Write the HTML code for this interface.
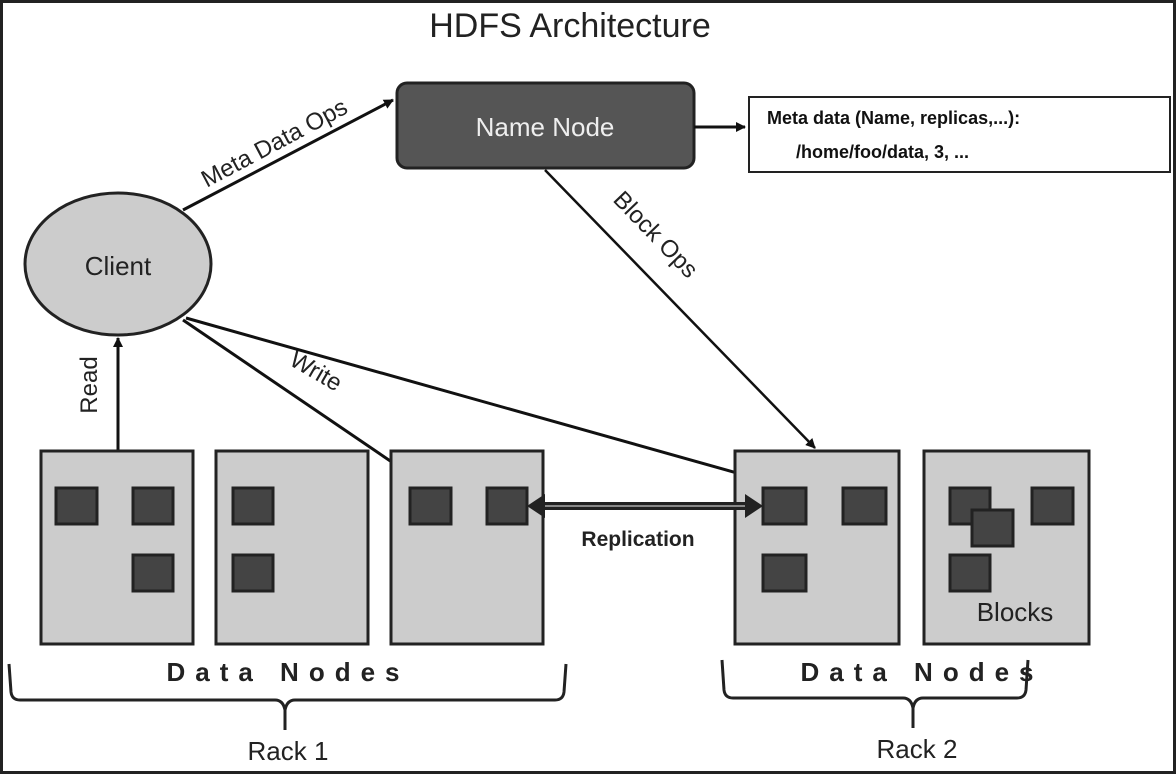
<!DOCTYPE html>
<html><head><meta charset="utf-8"><style>
html,body{margin:0;padding:0;background:#fff;}
svg{display:block;font-family:"Liberation Sans",Arial,sans-serif;}
</style></head><body>
<svg width="1176" height="774" viewBox="0 0 1176 774" xmlns="http://www.w3.org/2000/svg">
<defs>
<marker id="ah" markerWidth="10" markerHeight="10" refX="9" refY="5" orient="auto" markerUnits="userSpaceOnUse" viewBox="0 0 10 10">
<path d="M0,0 L10,5 L0,10 z" fill="#111"/></marker>
<marker id="ahb" markerWidth="16" markerHeight="16" refX="15" refY="8" orient="auto" markerUnits="userSpaceOnUse" viewBox="0 0 16 16">
<path d="M0,0 L16,8 L0,16 z" fill="#222"/></marker>
<marker id="ahs" markerWidth="16" markerHeight="16" refX="15" refY="8" orient="auto-start-reverse" markerUnits="userSpaceOnUse" viewBox="0 0 16 16">
<path d="M0,0 L16,8 L0,16 z" fill="#222"/></marker>
</defs>
<rect x="1.5" y="1.5" width="1173" height="771" fill="#fff" stroke="#222" stroke-width="3"/>
<text x="570" y="37" font-size="34" text-anchor="middle" fill="#222">HDFS Architecture</text>

<rect x="397" y="83" width="297" height="85" rx="10" fill="#555" stroke="#222" stroke-width="3"/>
<text x="545" y="136" font-size="26" text-anchor="middle" fill="#eee">Name Node</text>

<rect x="749" y="97" width="421" height="75" fill="#fff" stroke="#222" stroke-width="2"/>
<text x="767" y="124" font-size="18" font-weight="bold" fill="#111">Meta data (Name, replicas,...):</text>
<text x="796" y="158" font-size="18" font-weight="bold" fill="#111">/home/foo/data,  3, ...</text>
<line x1="694" y1="127" x2="745" y2="127" stroke="#111" stroke-width="3" marker-end="url(#ah)"/>

<ellipse cx="118" cy="264" rx="93" ry="71" fill="#ccc" stroke="#222" stroke-width="3"/>
<text x="118" y="275" font-size="26" text-anchor="middle" fill="#222">Client</text>

<line x1="183" y1="210" x2="393" y2="100" stroke="#111" stroke-width="3" marker-end="url(#ah)"/>
<text transform="translate(278,150) rotate(-28)" font-size="24" text-anchor="middle" fill="#222">Meta Data Ops</text>

<line x1="545" y1="170" x2="815" y2="448" stroke="#111" stroke-width="2.5" marker-end="url(#ah)"/>
<text transform="translate(650,240) rotate(46)" font-size="24" text-anchor="middle" fill="#222">Block Ops</text>

<line x1="118" y1="451" x2="118" y2="338" stroke="#111" stroke-width="3" marker-end="url(#ah)"/>
<text transform="translate(97,385) rotate(-90)" font-size="24" text-anchor="middle" fill="#222">Read</text>

<line x1="183" y1="320" x2="430" y2="488" stroke="#111" stroke-width="3" marker-end="url(#ah)"/>
<text transform="translate(312,378) rotate(30)" font-size="24" text-anchor="middle" fill="#222">Write</text>
<line x1="186" y1="318" x2="840" y2="502" stroke="#111" stroke-width="3" marker-end="url(#ah)"/>

<g fill="#ccc" stroke="#222" stroke-width="3">
<rect x="41" y="451" width="152" height="193"/>
<rect x="216" y="451" width="152" height="193"/>
<rect x="391" y="451" width="152" height="193"/>
<rect x="735" y="451" width="164" height="193"/>
<rect x="924" y="451" width="165" height="193"/>
</g>
<g fill="#444" stroke="#222" stroke-width="3">
<rect x="56" y="488" width="41" height="36"/>
<rect x="133" y="488" width="40" height="36"/>
<rect x="133" y="555" width="40" height="36"/>
<rect x="233" y="488" width="40" height="36"/>
<rect x="233" y="555" width="40" height="36"/>
<rect x="410" y="488" width="41" height="36"/>
<rect x="487" y="488" width="40" height="36"/>
<rect x="763" y="488" width="43" height="36"/>
<rect x="843" y="488" width="43" height="36"/>
<rect x="763" y="555" width="43" height="36"/>
<rect x="950" y="488" width="40" height="36"/>
<rect x="1032" y="488" width="41" height="36"/>
<rect x="972" y="510" width="41" height="36"/>
<rect x="950" y="555" width="40" height="36"/>
</g>
<text x="1015" y="621" font-size="26" text-anchor="middle" fill="#222">Blocks</text>

<line x1="545" y1="506" x2="745" y2="506" stroke="#222" stroke-width="8"/>
<line x1="545" y1="506" x2="745" y2="506" stroke="#888" stroke-width="2"/>
<path d="M527,506 L545,494 L545,518 z" fill="#222"/>
<path d="M763,506 L745,494 L745,518 z" fill="#222"/>
<text x="638" y="546" font-size="21" font-weight="bold" text-anchor="middle" fill="#222">Replication</text>

<text x="288" y="681" font-size="26" font-weight="bold" letter-spacing="10" text-anchor="middle" fill="#222">Data Nodes</text>
<text x="922" y="681" font-size="26" font-weight="bold" letter-spacing="10" text-anchor="middle" fill="#222">Data Nodes</text>

<g fill="none" stroke="#222" stroke-width="3">
<path d="M9,664 L11,692 Q12,700 20,700 L275,700 Q283,700 285,710 L285,730 M285,710 Q287,700 295,700 L555,700 Q563,700 564,692 L566,664"/>
<path d="M722,660 L724,690 Q725,698 733,698 L903,698 Q911,698 913,708 L913,728 M913,708 Q915,698 923,698 L1017,698 Q1025,698 1026,690 L1028,660"/>
</g>
<text x="288" y="760" font-size="26" text-anchor="middle" fill="#222">Rack 1</text>
<text x="917" y="758" font-size="26" text-anchor="middle" fill="#222">Rack 2</text>
</svg>
</body></html>
